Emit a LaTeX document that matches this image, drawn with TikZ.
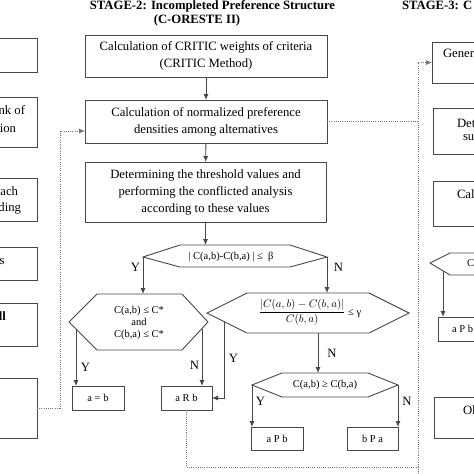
\documentclass[tikz,border=0pt]{standalone}
\usepackage{fontspec}
\setmainfont{Liberation Serif}
\usepackage{amsmath}
\usetikzlibrary{arrows.meta,calc}
\newcommand{\fbig}{\fontsize{12.7}{17}\selectfont}
\newcommand{\fsml}{\fontsize{10.5}{12}\selectfont}
\begin{document}
\begin{tikzpicture}[x=1pt,y=-1pt,
  every node/.style={inner sep=0pt, outer sep=0pt},
  ln/.style={draw=black!72, line width=0.9pt},
  box/.style={ln, rectangle, align=center, font=\fbig},
  sbox/.style={ln, rectangle, align=center, font=\fsml},
  arr/.style={ln, -{Latex[length=6pt,width=5pt]}},
  dots/.style={draw=black!55, line width=0.8pt, dash pattern=on 1pt off 1.2pt},
  darr/.style={dots, -{Latex[length=6pt,width=5pt]}},
  lbl/.style={font=\fbig},
  frag/.style={font=\fbig}]
\useasboundingbox (0,0) rectangle (474,474);
\clip (0,0) rectangle (474,474);

% titles
\node[font=\fbig\bfseries, anchor=base] (t2a) at (212.5,9.5) {STAGE-2: Incompleted Preference Structure};
\node[font=\fbig\bfseries, anchor=base] (t2b) at (197,23.5) {(C-ORESTE II)};
\node[font=\fbig\bfseries, anchor=base west] (t3) at (402,9.5) {STAGE-3: C};

% stage 1 (cut at the left)
\node[box, minimum width=100pt, minimum height=34pt] (abox) at (-13,55) {};
\node[box, minimum width=100pt, minimum height=50pt] (bbox) at (-13,122) {};
\node[box, minimum width=100pt, minimum height=43pt] (cbox) at (-13,199.5) {};
\node[box, minimum width=100pt, minimum height=33pt] (dbox) at (-13,263.5) {};
\node[box, minimum width=100pt, minimum height=43pt] (ebox) at (-13,324.5) {};
\node[box, minimum width=100pt, minimum height=60pt] (fbox) at (-13,408) {};
\node[frag, anchor=east] (tb1) at (25,110) {nk of};
\node[frag, anchor=east] (tb2) at (16,128) {ion};
\node[frag, anchor=east] (tc1) at (18,191) {ach};
\node[frag, anchor=east] (tc2) at (21,208) {ding};
\node[frag, anchor=east] (td1) at (4.5,262) {s};
\node[frag, anchor=east, font=\fbig\bfseries] (te1) at (6,316) {ll};

% stage 2 boxes
\node[box, minimum width=242pt, minimum height=42pt] (b1) at (206,56)
  {Calculation of CRITIC weights of criteria\\(CRITIC Method)};
\node[box, minimum width=242pt, minimum height=43pt] (b2) at (206,121.5)
  {Calculation of normalized preference\\densities among alternatives};
\node[box, minimum width=241pt, minimum height=60pt] (b3) at (205.5,192)
  {Determining the threshold values and\\performing the conflicted analysis\\according to these values};

% hexagon 1
\coordinate (h1L) at (143,257); \coordinate (h1TL) at (180,245); \coordinate (h1TR) at (290,245);
\coordinate (h1R) at (327,257); \coordinate (h1BR) at (290,267); \coordinate (h1BL) at (180,267);
\draw[ln] (h1L) -- (h1TL) -- (h1TR) -- (h1R) -- (h1BR) -- (h1BL) -- cycle;
\node[font=\fsml] (h1t) at (231,257) {| C(a,b)-C(b,a) |\ ≤\ \ β};

% hexagon 2
\coordinate (h2L) at (69,322); \coordinate (h2TL) at (97,294); \coordinate (h2TR) at (182,294);
\coordinate (h2R) at (208,322); \coordinate (h2BR) at (182,350); \coordinate (h2BL) at (97,350);
\draw[ln] (h2L) -- (h2TL) -- (h2TR) -- (h2R) -- (h2BR) -- (h2BL) -- cycle;
\node[font=\fsml, align=center] (h2t) at (139,323) {C(a,b) ≤ C*\\and\\C(b,a) ≤ C*};

% hexagon 3
\coordinate (h3L) at (207,313); \coordinate (h3TL) at (247,293); \coordinate (h3TR) at (369,293);
\coordinate (h3R) at (409,313); \coordinate (h3BR) at (369,333); \coordinate (h3BL) at (247,333);
\draw[ln] (h3L) -- (h3TL) -- (h3TR) -- (h3R) -- (h3BR) -- (h3BL) -- cycle;
\node[font=\fsml] (h3t) at (310,312.5) {$\dfrac{|C(a,b)-C(b,a)|}{C(b,a)}$\ ≤\ γ};

% hexagon 4
\coordinate (h4L) at (252,385); \coordinate (h4TL) at (282,373); \coordinate (h4TR) at (368,373);
\coordinate (h4R) at (398,385); \coordinate (h4BR) at (368,397); \coordinate (h4BL) at (282,397);
\draw[ln] (h4L) -- (h4TL) -- (h4TR) -- (h4R) -- (h4BR) -- (h4BL) -- cycle;
\node[font=\fsml] (h4t) at (325,385) {C(a,b) ≥ C(b,a)};

% result boxes
\node[sbox, minimum width=52pt, minimum height=24pt] (aeqb) at (98,398) {a = b};
\node[sbox, minimum width=51pt, minimum height=24pt] (aRb) at (186.5,398) {a R b};
\node[sbox, minimum width=52pt, minimum height=23pt] (aPb) at (277,438.5) {a P b};
\node[sbox, minimum width=51pt, minimum height=23pt] (bPa) at (372.5,438.5) {b P a};

% stage 3 (cut at the right)
\node[box, minimum width=100pt, minimum height=41pt] (gbox) at (482,62.5) {};
\node[box, minimum width=100pt, minimum height=46pt] (hbox) at (483,131) {};
\node[box, minimum width=100pt, minimum height=45pt] (ibox) at (483,203.5) {};
\node[sbox, minimum width=100pt, minimum height=24pt] (kbox) at (488,329) {};
\node[box, minimum width=100pt, minimum height=41pt] (lbox) at (484,417.5) {};
\node[frag, anchor=west] (tg1) at (443,53) {Gener};
\node[frag, anchor=west] (th1) at (457,123) {Det};
\node[frag, anchor=west] (th2) at (463,139) {sup};
\node[frag, anchor=west] (ti1) at (457,194) {Cal};
\node[font=\fsml, anchor=west] (tk1) at (452,329) {a P b};
\node[frag, anchor=west] (tl1) at (463,410) {Ol};
\coordinate (jL) at (430,263); \coordinate (jT) at (450,253); \coordinate (jB) at (450,275);
\draw[ln] (485,253) -- (jT) -- (jL) -- (jB) -- (485,275);
\node[font=\fsml, anchor=west] (tj1) at (467,263) {C};
\coordinate (jS) at (443,271);
\draw[arr] (jS) -- (jS |- kbox.north);

% solid connectors
\draw[arr] (b1) -- (b2);
\draw[arr] (b2) -- (b3);
\draw[arr] (b3.south) -- (b3.south |- h1TL);
\draw[arr] (h1L) -- (h1L |- h2TL);
\draw[arr] (h1R) -- (h1R |- h3TL);
\coordinate (y2s) at (76,329);
\draw[arr] (y2s) -- (y2s |- aeqb.north);
\coordinate (n2s) at (202,328.5);
\draw[arr] (n2s) -- (n2s |- aRb.north);
\coordinate (y3s) at (224,321.5);
\draw[arr] (y3s) |- (aRb.east);
\coordinate (n3s) at (318,333);
\draw[arr] (n3s) -- (n3s |- h4TL);
\draw[arr] (h4L) -- (h4L |- aPb.north);
\draw[arr] (h4R) -- (h4R |- bPa.north);

% labels
\node[lbl] (ly1) at (135.5,267.5) {Y};
\node[lbl] (ln1) at (338.5,267.5) {N};
\node[lbl] (ly2) at (85.5,367) {Y};
\node[lbl] (ln2) at (194.5,365) {N};
\node[lbl] (ly3) at (233.5,358) {Y};
\node[lbl] (ln3) at (332,353) {N};
\node[lbl] (ly4) at (260.5,401) {Y};
\node[lbl] (ln4) at (407,401.5) {N};

% dotted connectors
\coordinate (d1) at (60,131);
\draw[darr] (fbox.east) -| (d1) -- (d1 -| b2.west);
\coordinate (d2) at (418,467);
\draw[dots] (b2.east) -- (b2.east -| d2);
\draw[dots] (aRb.south) |- (d2) -- ++(0,12);
\draw[darr] (d2) |- (gbox.west);
\end{tikzpicture}
\end{document}
